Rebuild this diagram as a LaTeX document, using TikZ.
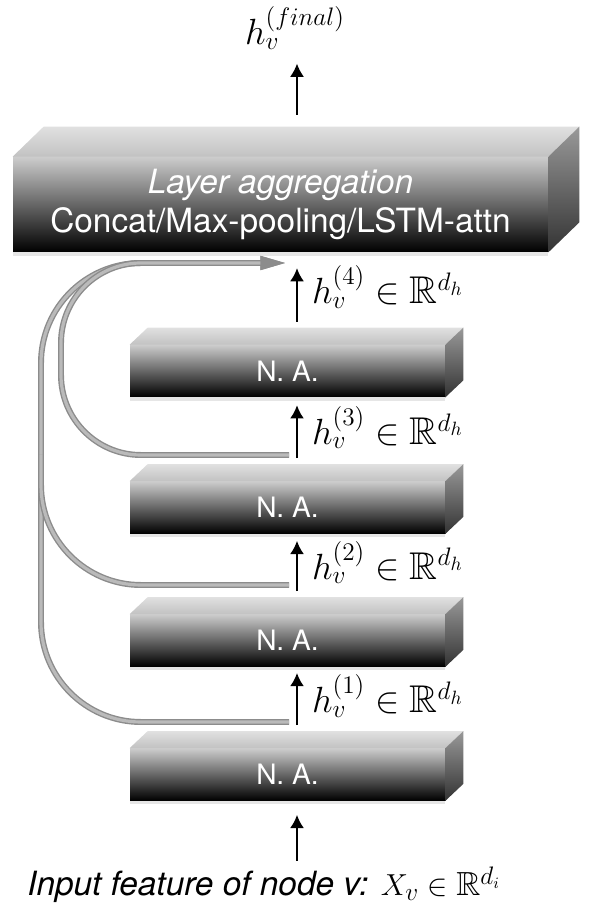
\documentclass[tikz,border=0pt]{standalone}
\usepackage{fontspec}
\setmainfont{TeX Gyre Heros}
\usepackage{amsmath,amssymb}
\usetikzlibrary{arrows.meta,calc,shadows}

\tikzset{
  na/.style={minimum width=6.3cm, minimum height=1.04cm, inner sep=0pt,
    top color=black!20, middle color=black!52, bottom color=black,
    drop shadow={shadow xshift=0pt, shadow yshift=-2pt, opacity=0.2},
    text=white, font=\fontsize{16}{18}\selectfont},
  agg/.style={na, minimum width=10.7cm, minimum height=1.9cm, align=center,
    font=\fontsize{19}{22.7}\selectfont},
  topface/.style={top color=black!12, bottom color=black!24},
  sideface/.style={top color=black!40, bottom color=black!80},
  lbl/.style={font=\fontsize{22}{24}\selectfont, inner sep=8pt},
  skip/.style={draw=black!45, line width=0.8pt, double=black!27,
    double distance=1.8pt, rounded corners=2cm},
  tip/.style={-{Triangle[length=14pt, width=8pt]}}
}

\begin{document}
\begin{tikzpicture}[>={Latex[length=7.5pt, width=8pt]}]
\useasboundingbox (0,0) rectangle (11.9,18.24);

\coordinate (sp) at (5.94,0);
\coordinate (lft) at (0.82,0);
\coordinate (lft2) at (1.22,0);

% aggregation block
\node[agg] at (5.61,14.15) (agg) {\textit{Layer aggregation}\\Concat/Max-pooling/LSTM-attn};
\path[topface] (agg.north west) -- ++(0.62,0.6) -- ($(agg.north east)+(0.62,0.6)$) -- (agg.north east) -- cycle;
\path[sideface] (agg.north east) -- ++(0.62,0.6) -- ($(agg.south east)+(0.62,0.6)$) -- (agg.south east) -- cycle;

% N. A. blocks
\node[na] at (5.75,2.75) (na1) {N. A.};
\path[topface] (na1.north west) -- ++(0.36,0.34) -- ($(na1.north east)+(0.36,0.34)$) -- (na1.north east) -- cycle;
\path[sideface] (na1.north east) -- ++(0.36,0.34) -- ($(na1.south east)+(0.36,0.34)$) -- (na1.south east) -- cycle;

\node[na] at (5.75,5.43) (na2) {N. A.};
\path[topface] (na2.north west) -- ++(0.36,0.34) -- ($(na2.north east)+(0.36,0.34)$) -- (na2.north east) -- cycle;
\path[sideface] (na2.north east) -- ++(0.36,0.34) -- ($(na2.south east)+(0.36,0.34)$) -- (na2.south east) -- cycle;

\node[na] at (5.75,8.09) (na3) {N. A.};
\path[topface] (na3.north west) -- ++(0.36,0.34) -- ($(na3.north east)+(0.36,0.34)$) -- (na3.north east) -- cycle;
\path[sideface] (na3.north east) -- ++(0.36,0.34) -- ($(na3.south east)+(0.36,0.34)$) -- (na3.south east) -- cycle;

\node[na] at (5.75,10.82) (na4) {N. A.};
\path[topface] (na4.north west) -- ++(0.36,0.34) -- ($(na4.north east)+(0.36,0.34)$) -- (na4.north east) -- cycle;
\path[sideface] (na4.north east) -- ++(0.36,0.34) -- ($(na4.south east)+(0.36,0.34)$) -- (na4.south east) -- cycle;

% input and output
\node[font=\fontsize{19}{21}\selectfont\itshape] at (5.28,0.54) (input) {Input feature of node v: $X_v \in \mathbb{R}^{d_i}$};
\node[lbl] at (5.9,17.68) (final) {$h_v^{(final)}$};

% layer arrows
\draw[->, line width=1.2pt, shorten >=8pt] (input.north -| sp) -- (na1.south -| sp);
\draw[->, line width=1.2pt, shorten >=3.5pt] ($(na1.north -| sp)+(0,0.46)$) -- (na2.south -| sp) node[midway, right, lbl] {$h_v^{(1)} \in \mathbb{R}^{d_h}$};
\draw[->, line width=1.2pt, shorten >=4pt] ($(na2.north -| sp)+(0,0.46)$) -- (na3.south -| sp) node[midway, right, lbl] {$h_v^{(2)} \in \mathbb{R}^{d_h}$};
\draw[->, line width=1.2pt, shorten >=4.5pt] ($(na3.north -| sp)+(0,0.46)$) -- (na4.south -| sp) node[midway, right, lbl] {$h_v^{(3)} \in \mathbb{R}^{d_h}$};
\draw[->, line width=1.2pt, shorten >=9pt] ($(na4.north -| sp)+(0,0.46)$) -- (agg.south -| sp) node[midway, right, lbl] {$h_v^{(4)} \in \mathbb{R}^{d_h}$};
\draw[->, line width=1.2pt, shorten >=0pt] ($(agg.north -| sp)+(0,0.84)$) -- (final.south -| sp);

% skip connections to the aggregation
\coordinate (s1) at (5.78,3.8);
\coordinate (s2) at (5.78,6.54);
\coordinate (s3) at (5.78,9.14);
\coordinate (aggin) at (5.7,12.98);
\draw[skip, tip] (s1) -- (s1 -| lft) -- (lft |- aggin) -- (aggin);
\draw[skip] (s2) -- (s2 -| lft) -- (lft |- s3);
\draw[skip, tip, rounded corners=1.6cm] (s3) -- (s3 -| lft2) -- (lft2 |- aggin) -- (aggin);
\end{tikzpicture}
\end{document}
